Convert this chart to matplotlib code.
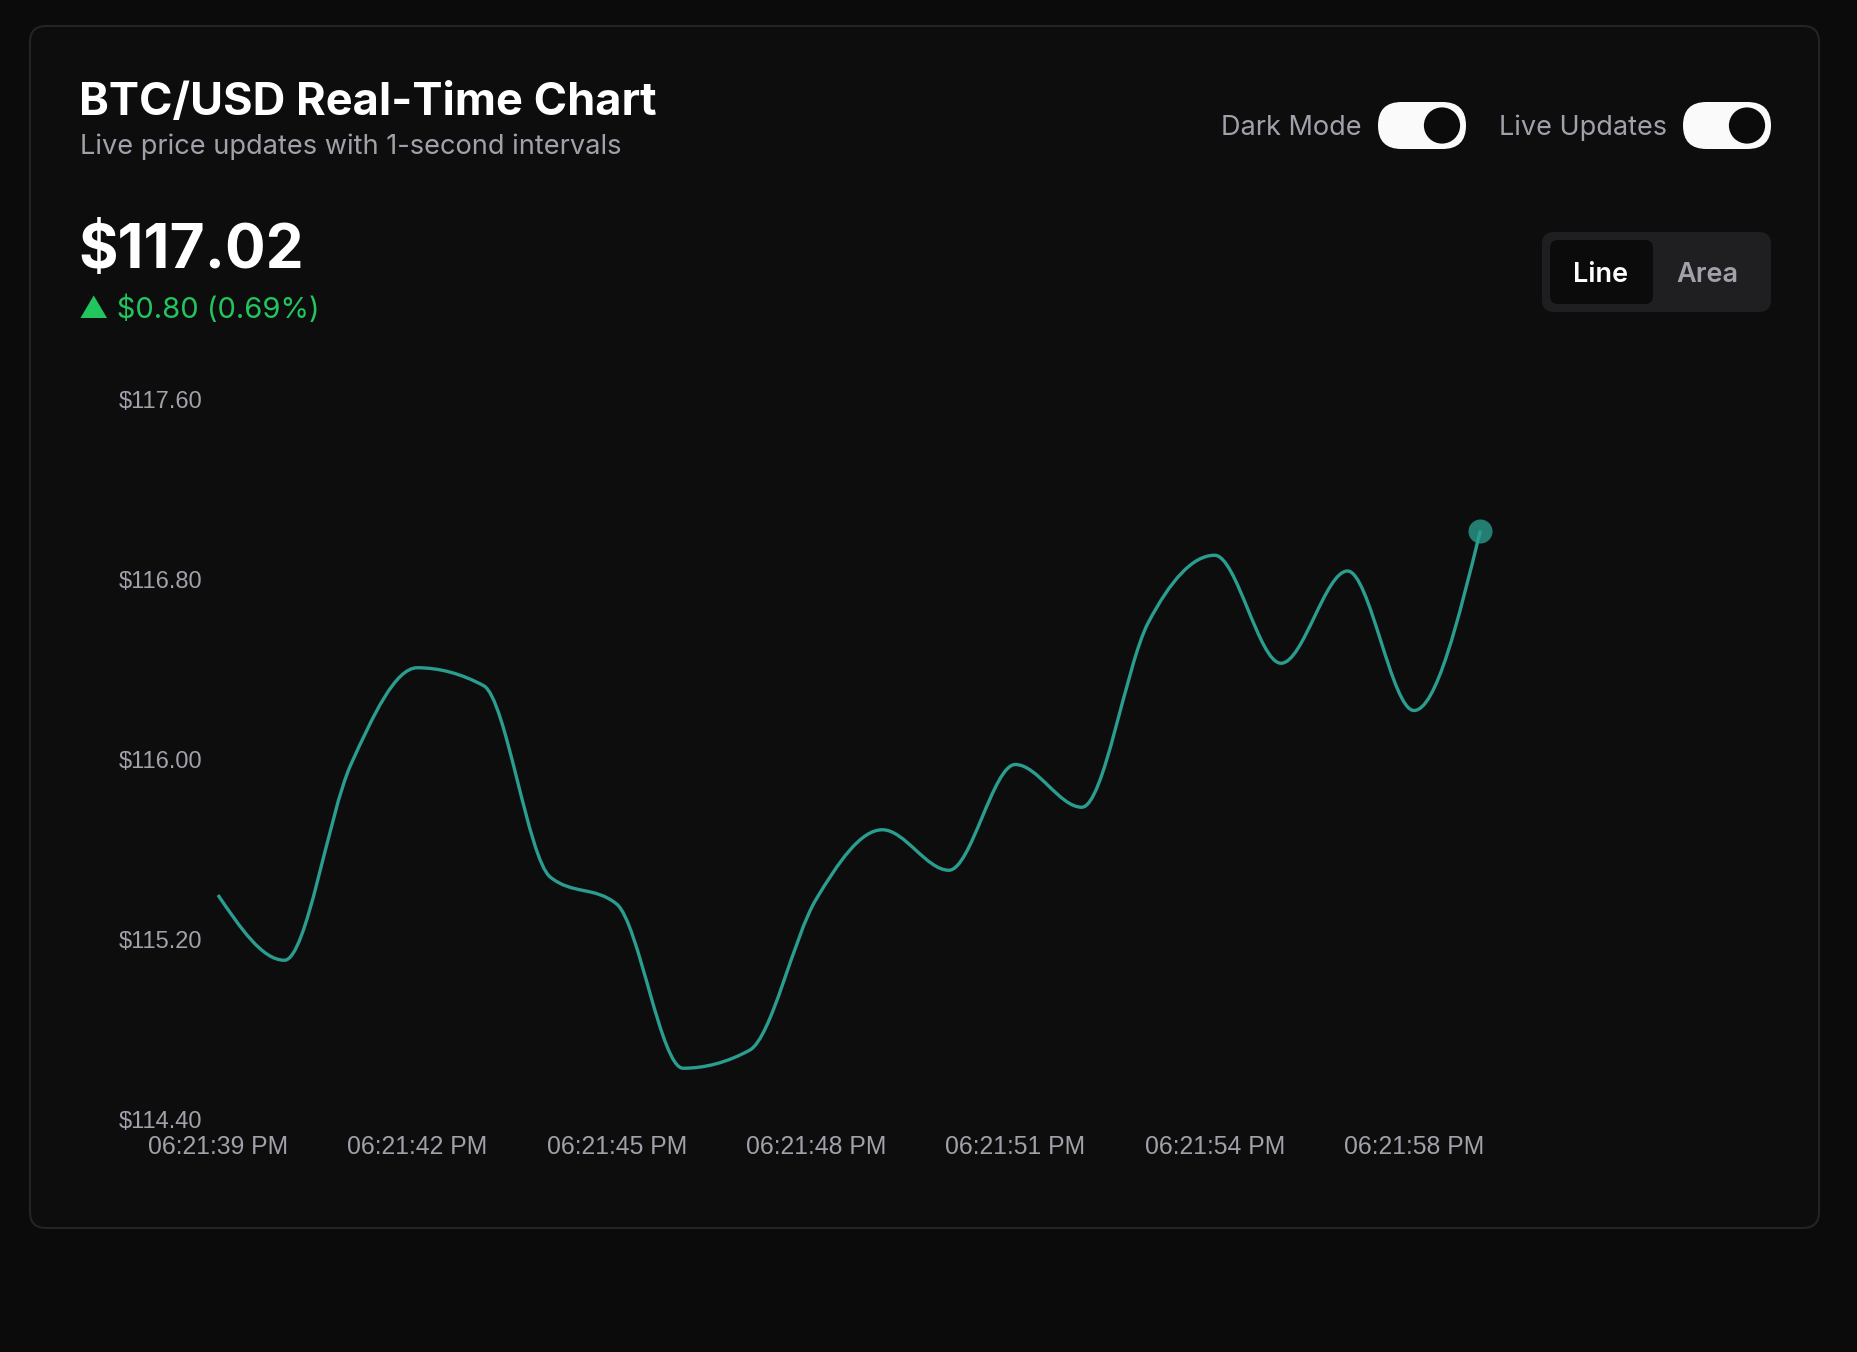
import matplotlib
matplotlib.use("Agg")
import matplotlib.pyplot as plt
from matplotlib.patches import FancyBboxPatch, Circle, PathPatch
from matplotlib.path import Path
import numpy as np

# price per second
prices = [115.40, 115.11, 115.98, 116.41, 116.33, 115.48, 115.36, 114.63, 114.71, 115.38,
          115.69, 115.51, 115.98, 115.79, 116.61, 116.91, 116.43, 116.84, 116.22, 117.02]
seconds = [39, 40, 41, 42, 43, 44, 45, 46, 47, 48, 49, 50, 51, 52, 53, 54, 56, 57, 58, 59]
times = ["06:21:%02d PM" % s for s in seconds]
yticks = [114.40, 115.20, 116.00, 116.80, 117.60]

last = prices[-1]
change = prices[-1] - prices[-2]
pct = change / prices[-2] * 100

W, H = 1858, 1352
BG = "#0b0b0c"
CARD = "#0d0d0e"
GRAY = "#a1a1aa"
TEAL = "#2a9d8f"

fig = plt.figure(figsize=(W / 100, H / 100), dpi=100, facecolor=BG)

# pixel-space layer for the card and controls
bg = fig.add_axes([0, 0, 1, 1])
bg.set_xlim(0, W)
bg.set_ylim(H, 0)
bg.axis("off")

bg.add_patch(FancyBboxPatch((30, 26), 1789, 1202, boxstyle="round,pad=0,rounding_size=16",
                            fc=CARD, ec="#242427", lw=1.5))

ui = ["Inter", "DejaVu Sans"]
bg.text(79, 115, "BTC/USD Real-Time Chart", fontsize=32.5, fontweight="bold",
        color="white", family=ui, va="baseline")
bg.text(80, 154, "Live price updates with 1-second intervals", fontsize=19.6,
        color=GRAY, family=ui, va="baseline")
bg.text(78, 268, "$%.2f" % last, fontsize=43.5, fontweight="bold", color="white",
        family=ui, va="baseline")
bg.text(79, 318, "\u25b2 $%.2f (%.2f%%)" % (change, pct), fontsize=21, color="#22c55e",
        family=ui, va="baseline")

# toggles
def toggle(x0, label, lx):
    bg.text(lx, 135, label, fontsize=19.5, color=GRAY, family=ui, va="baseline", ha="right")
    bg.add_patch(FancyBboxPatch((x0, 102), 88, 47, boxstyle="round,pad=0,rounding_size=23.5",
                                fc="#fafafa", ec="none"))
    bg.add_patch(Circle((x0 + 64, 125.5), 19.5, fc="#0b0b0b", ec="#fafafa", lw=2))

toggle(1378, "Dark Mode", 1362)
toggle(1683, "Live Updates", 1667)

# line / area switch
bg.add_patch(FancyBboxPatch((1542, 232), 229, 80, boxstyle="round,pad=0,rounding_size=12",
                            fc="#1f1f22", ec="none"))
bg.add_patch(FancyBboxPatch((1550, 240), 103, 64, boxstyle="round,pad=0,rounding_size=8",
                            fc="#0b0b0b", ec="none"))
bg.text(1601, 282, "Line", fontsize=19.5, fontweight="semibold", color="white", family=ui,
        ha="center", va="baseline")
bg.text(1707, 282, "Area", fontsize=19.5, fontweight="semibold", color=GRAY, family=ui,
        ha="center", va="baseline")

# chart
ax = fig.add_axes([218 / W, 1 - 1120 / H, (1480.4 - 218) / W, 720 / H])
ax.set_facecolor("none")
ax.set_xlim(0, len(prices) - 1)
ax.set_ylim(yticks[0], yticks[-1])
for s in ax.spines.values():
    s.set_visible(False)

# monotone cubic (same as d3 curveMonotoneX)
x = np.arange(len(prices), dtype=float)
y = np.array(prices)
sl = np.diff(y) / np.diff(x)
t = np.zeros(len(y))
for i in range(1, len(y) - 1):
    s0, s1 = sl[i - 1], sl[i]
    p = (s0 + s1) / 2
    t[i] = (np.sign(s0) + np.sign(s1)) * min(abs(s0), abs(s1), 0.5 * abs(p))
t[0] = (3 * sl[0] - t[1]) / 2
t[-1] = (3 * sl[-1] - t[-2]) / 2
verts = [(x[0], y[0])]
codes = [Path.MOVETO]
for i in range(len(y) - 1):
    dx = x[i + 1] - x[i]
    verts += [(x[i] + dx / 3, y[i] + dx * t[i] / 3),
              (x[i + 1] - dx / 3, y[i + 1] - dx * t[i + 1] / 3),
              (x[i + 1], y[i + 1])]
    codes += [Path.CURVE4] * 3
ax.add_patch(PathPatch(Path(verts, codes), fill=False, ec=TEAL, lw=2.4,
                       capstyle="butt", zorder=3, clip_on=False))
ax.scatter([x[-1]], [y[-1]], s=300, color="#237d71", zorder=2, clip_on=False, lw=0)

tick_font = dict(family=["Liberation Sans", "DejaVu Sans"], color=GRAY)
ax.set_yticks(yticks)
ax.set_yticklabels(["$%.2f" % v for v in yticks], size=17, **tick_font)
xt = list(range(0, len(prices), 3))
ax.set_xticks(xt)
ax.set_xticklabels([times[i] for i in xt], size=17.8, **tick_font)
ax.tick_params(axis="y", length=0, pad=11)
ax.tick_params(axis="x", length=0, pad=10.5)

fig.savefig("out.png", dpi=100, facecolor=BG)
